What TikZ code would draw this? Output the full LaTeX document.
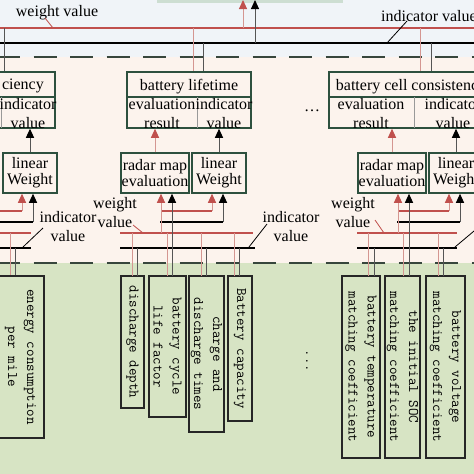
\documentclass[tikz,border=0pt]{standalone}
\usepackage{fontspec}
\setmainfont{Liberation Serif}
\usetikzlibrary{arrows.meta}
\definecolor{topbg}{RGB}{240,244,248}
\definecolor{midbg}{RGB}{252,243,237}
\definecolor{botbg}{RGB}{215,228,196}
\definecolor{stripc}{RGB}{205,222,210}
\definecolor{redc}{RGB}{192,80,77}
\definecolor{redthin}{RGB}{212,150,145}
\definecolor{boxc}{RGB}{45,80,62}
\definecolor{dashc}{RGB}{55,70,60}
\definecolor{thinc}{RGB}{85,85,85}
\begin{document}
\begin{tikzpicture}[x=1pt,y=-1pt,
  evalbox/.style={draw=boxc, line width=1.5pt, inner sep=0pt},
  inbox/.style={draw=black!85, line width=2pt, fill=botbg, inner sep=0pt},
  lbl/.style={font=\fontsize{16}{16}\selectfont, inner sep=0pt, align=center},
  lbltwo/.style={font=\fontsize{16}{19}\selectfont, inner sep=0pt, align=center},
  intext/.style={font=\ttfamily\fontsize{14.6}{19}\selectfont, rotate=-90, align=center, inner sep=0pt},
  redbus/.style={draw=redc, line width=2.2pt},
  blackbus/.style={draw=black, line width=2.8pt},
  dashline/.style={draw=dashc, line width=1.8pt, dash pattern=on 23pt off 13.5pt},
  divline/.style={draw=boxc, line width=1.5pt},
  coldiv/.style={draw=gray!80, line width=0.8pt},
  redv/.style={draw=redthin, line width=0.9pt},
  blackv/.style={draw=thinc, line width=0.9pt},
  redarr/.style={draw=redthin, line width=1pt, -{Triangle[width=8pt,length=9pt,color=redc]}},
  blackarr/.style={draw=thinc, line width=1pt, -{Triangle[width=8pt,length=9pt,color=black]}},
  leadred/.style={draw=redc, line width=0.8pt},
  leadblack/.style={draw=black, line width=0.8pt}
]
\useasboundingbox (0,0) rectangle (474,474);
\begin{scope}
\clip (0,0) rectangle (474,474);
% backgrounds
\fill[topbg] (0,0) rectangle (474,57);
\fill[stripc] (157,0) rectangle (343,3);
\fill[midbg] (0,57) rectangle (474,263);
\fill[botbg] (0,263) rectangle (474,474);

% ---------- top buses ----------
\coordinate (tr0) at (-5,28); \coordinate (tr1) at (480,28);
\coordinate (tb0) at (-5,43); \coordinate (tb1) at (480,43);
\draw[redbus] (tr0) -- (tr1);
\draw[blackbus] (tb0) -- (tb1);
\coordinate (d10) at (-3,57); \coordinate (d11) at (480,57);
\coordinate (d20) at (-3,263); \coordinate (d21) at (480,263);
\draw[dashline] (d10) -- (d11);
\draw[dashline] (d20) -- (d21);

% top outputs
\coordinate (outr) at (243,28); \coordinate (outrt) at (243,0);
\coordinate (outb) at (255,43); \coordinate (outbt) at (255,0);
\draw[redarr] (outr) -- (outrt);
\draw[blackarr] (outb) -- (outbt);

% top labels
\node[lbl] (wvtop) at (57,13) {weight value};
\coordinate (wvl1) at (45,18); \coordinate (wvl2) at (53,28);
\draw[leadred] (wvl1) -- (wvl2);
\node[lbl, anchor=west] (ivtop) at (381,16) {indicator value};
\coordinate (ivl1) at (407,21); \coordinate (ivl2) at (387,43);
\draw[leadblack] (ivl1) -- (ivl2);

% ---------- evaluation boxes (row 1) ----------
\node[evalbox, minimum width=124pt, minimum height=56pt] (b1) at (-7,100) {};
\node[evalbox, minimum width=124pt, minimum height=56pt] (b2) at (189,100) {};
\node[evalbox, minimum width=164pt, minimum height=56pt] (b3) at (411,100) {};
\draw[divline] (-69,97) -- (55,97);
\draw[divline] (127,97) -- (251,97);
\draw[divline] (329,97) -- (493,97);
\draw[coldiv] (1,97) -- (1,128);
\draw[coldiv] (197,97) -- (197,128);
\draw[coldiv] (414,97) -- (414,128);

\node[lbl, anchor=east] (b1t) at (44,86) {ciency};
\node[lbltwo] (b1r) at (28,114) {indicator\\value};
\node[lbl] (b2t) at (189,87) {battery lifetime};
\node[lbltwo] (b2l) at (162,114) {evaluation\\result};
\node[lbltwo] (b2r) at (224,114) {indicator\\value};
\node[lbl] (b3t) at (411,87) {battery cell consistency};
\node[lbltwo] (b3l) at (371,114) {evaluation\\result};
\node[lbltwo] (b3r) at (453,114) {indicator\\value};
\node[lbl] (dots1) at (312,111) {\ldots};

% verticals from row 1 boxes to the top buses
\coordinate (v1) at (4,28);
\draw[blackv] (v1) -- (v1 |- b1.north);
\coordinate (v2r) at (193,28); \coordinate (v2b) at (203,43);
\draw[redv] (v2r) -- (v2r |- b2.north);
\draw[blackv] (v2b) -- (v2b |- b2.north);
\coordinate (v3r) at (420,28); \coordinate (v3b) at (431,43);
\draw[redv] (v3r) -- (v3r |- b3.north);
\draw[blackv] (v3b) -- (v3b |- b3.north);

% ---------- method boxes (row 2) ----------
\node[evalbox, lbl, minimum width=54pt, minimum height=40pt] (lin1) at (30,173) {linear\\Weight};
\node[evalbox, lbl, minimum width=68pt, minimum height=40pt] (rad2) at (155,173) {radar map\\evaluation};
\node[evalbox, lbl, minimum width=54pt, minimum height=40pt] (lin2) at (219,173) {linear\\Weight};
\node[evalbox, lbl, minimum width=68pt, minimum height=40pt] (rad3) at (392,173) {radar map\\evaluation};
\node[evalbox, lbl, minimum width=54pt, minimum height=40pt] (lin3) at (456,173) {linear\\Weight};

\draw[blackarr] (lin1.north) -- (lin1.north |- b1.south);
\draw[redarr] (rad2.north) -- (rad2.north |- b2.south);
\draw[blackarr] (lin2.north) -- (lin2.north |- b2.south);
\draw[redarr] (rad3.north) -- (rad3.north |- b3.south);
\draw[blackarr] (lin3.north) -- (lin3.north |- b3.south);

% ---------- input boxes ----------
\node[inbox, minimum width=47pt, minimum height=162pt] (in1) at (20.5,357) {};
\node[intext] at (in1.center) {energy consumption\\per mile};
\node[inbox, minimum width=23pt, minimum height=132pt] (in2) at (132.5,342) {};
\node[intext] at (in2.center) {discharge depth};
\node[inbox, minimum width=37pt, minimum height=141pt] (in3) at (167.5,346.5) {};
\node[intext] at (in3.center) {battery cycle\\life factor};
\node[inbox, minimum width=35pt, minimum height=156pt] (in4) at (206.5,354) {};
\node[intext] at (in4.center) {charge and\\discharge times};
\node[inbox, minimum width=24pt, minimum height=145pt] (in5) at (240,348.5) {};
\node[intext] at (in5.center) {Battery capacity};
\node[intext] (dots2) at (307,361) {...};
\node[inbox, minimum width=38pt, minimum height=182pt] (in6) at (361,367) {};
\node[intext] at (in6.center) {battery temperature\\matching coefficient};
\node[inbox, minimum width=35pt, minimum height=182pt] (in7) at (402.5,367) {};
\node[intext] at (in7.center) {the initial SOC\\matching coefficient};
\node[inbox, minimum width=39pt, minimum height=182pt] (in8) at (445.5,367) {};
\node[intext] at (in8.center) {battery voltage\\matching coefficient};

% ---------- group 1 buses ----------
\coordinate (g1sr0) at (-5,211); \coordinate (g1sr1) at (22,211);
\coordinate (g1sb0) at (-5,222); \coordinate (g1sb1) at (33,222);
\coordinate (g1lr0) at (-5,233); \coordinate (g1lr1) at (31,233);
\coordinate (g1lb0) at (-5,248); \coordinate (g1lb1) at (31,248);
\draw[redbus] (g1sr0) -- (g1sr1);
\draw[blackbus] (g1sb0) -- (g1sb1);
\draw[redbus] (g1lr0) -- (g1lr1);
\draw[blackbus] (g1lb0) -- (g1lb1);
\draw[redarr] (g1sr1) -- (g1sr1 |- lin1.south);
\draw[blackarr] (g1sb1) -- (g1sb1 |- lin1.south);
\coordinate (g1vr) at (10,233); \coordinate (g1vb) at (15,248);
\draw[redv] (g1vr) -- (g1vr |- in1.north);
\draw[blackv] (g1vb) -- (g1vb |- in1.north);
\node[lbltwo] (g1iv) at (68,227) {indicator\\value};
\coordinate (g1l1) at (43,228); \coordinate (g1l2) at (23,247);
\draw[leadblack] (g1l1) -- (g1l2);

% ---------- group 2 buses ----------
\coordinate (g2sr0) at (161,211); \coordinate (g2sr1) at (212,211);
\coordinate (g2sb0) at (160,222); \coordinate (g2sb1) at (223,222);
\coordinate (g2lr0) at (120,233); \coordinate (g2lr1) at (253,233);
\coordinate (g2lb0) at (120,248); \coordinate (g2lb1) at (255,248);
\draw[redbus] (g2sr0) -- (g2sr1);
\draw[blackbus] (g2sb0) -- (g2sb1);
\draw[redbus] (g2lr0) -- (g2lr1);
\draw[blackbus] (g2lb0) -- (g2lb1);
\coordinate (g2ra) at (161,233);
\draw[redarr] (g2ra) -- (g2ra |- rad2.south);
\draw[redarr] (g2sr1) -- (g2sr1 |- rad2.south);
\coordinate (g2ba) at (172,276);
\draw[blackarr] (g2ba) -- (g2ba |- rad2.south);
\draw[blackarr] (g2sb1) -- (g2sb1 |- lin2.south);
\foreach \xr/\xb/\bx in {132/137/in2, 167/172/in3, 201/206/in4, 234/239/in5} {
  \draw[redv] (\xr,233) -- (\xr,276);
  \draw[blackv] (\xb,248) -- (\xb,276);
}
\node[lbltwo] (g2wv) at (115,213) {weight\\value};
\coordinate (g2l1) at (133,225); \coordinate (g2l2) at (143,233);
\draw[leadred] (g2l1) -- (g2l2);
\node[lbltwo] (g2iv) at (291,227) {indicator\\value};
\coordinate (g2l3) at (267,224); \coordinate (g2l4) at (249,247);
\draw[leadblack] (g2l3) -- (g2l4);

% ---------- group 3 buses ----------
\coordinate (g3sr0) at (398,211); \coordinate (g3sr1) at (449,211);
\coordinate (g3sb0) at (397,222); \coordinate (g3sb1) at (460,222);
\coordinate (g3lr0) at (357,233); \coordinate (g3lr1) at (457,233);
\coordinate (g3lb0) at (357,248); \coordinate (g3lb1) at (457,248);
\draw[redbus] (g3sr0) -- (g3sr1);
\draw[blackbus] (g3sb0) -- (g3sb1);
\draw[redbus] (g3lr0) -- (g3lr1);
\draw[blackbus] (g3lb0) -- (g3lb1);
\coordinate (g3ra) at (398,233);
\draw[redarr] (g3ra) -- (g3ra |- rad3.south);
\draw[redarr] (g3sr1) -- (g3sr1 |- lin3.south);
\coordinate (g3ba) at (409,276);
\draw[blackarr] (g3ba) -- (g3ba |- rad3.south);
\draw[blackarr] (g3sb1) -- (g3sb1 |- lin3.south);
\foreach \xr/\xb in {368/374, 403/409, 438/443} {
  \draw[redv] (\xr,233) -- (\xr,276);
  \draw[blackv] (\xb,248) -- (\xb,276);
}
\node[lbltwo] (g3wv) at (353,213) {weight\\value};
\coordinate (g3l1) at (375,220); \coordinate (g3l2) at (384,233);
\draw[leadred] (g3l1) -- (g3l2);
\coordinate (g3l3) at (480,226); \coordinate (g3l4) at (455,247);
\draw[leadblack] (g3l3) -- (g3l4);
\end{scope}
\end{tikzpicture}
\end{document}
